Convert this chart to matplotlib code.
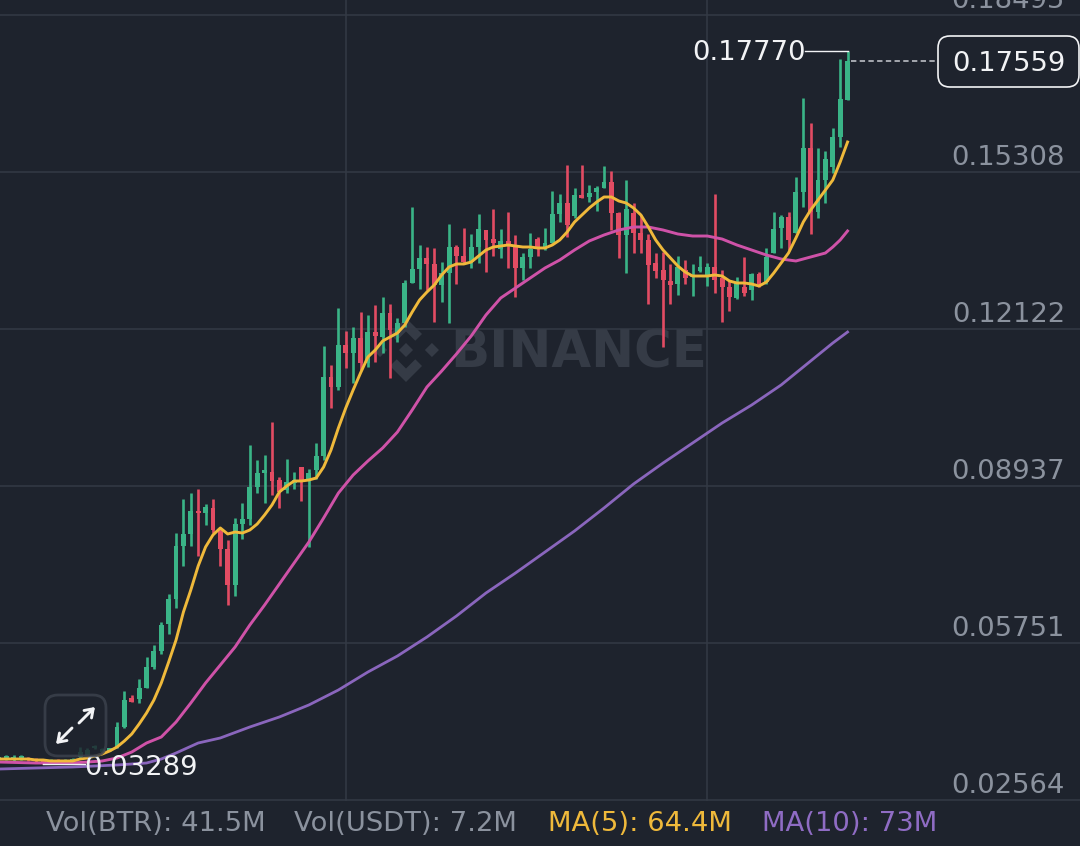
import matplotlib
matplotlib.use("Agg")
import matplotlib.pyplot as plt
from matplotlib.patches import FancyBboxPatch, Polygon
from matplotlib.transforms import blended_transform_factory

plt.rcParams['font.family'] = ['DejaVu Sans']

# candles, oldest first
opens = [0.03390, 0.03390, 0.03370, 0.03390, 0.03411, 0.03390, 0.03370, 0.03330, 0.03370, 0.03350, 0.03370, 0.03431, 0.03471, 0.03614, 0.03532, 0.03553,
         0.03634, 0.04040, 0.04629, 0.04608, 0.04832, 0.05258, 0.05583, 0.06131, 0.06638, 0.07714,
         0.07958, 0.08425, 0.08384, 0.08486, 0.08039, 0.07653, 0.06922, 0.08161, 0.08262, 0.08912,
         0.09196, 0.09217, 0.09054, 0.08851, 0.08993, 0.09318, 0.09054, 0.09257, 0.09541, 0.11145,
         0.10942, 0.11795, 0.11632, 0.11937, 0.11429, 0.12058, 0.11957, 0.12444, 0.12038, 0.12241,
         0.13053, 0.13337, 0.13561, 0.13439, 0.13013, 0.13256, 0.13784, 0.13601, 0.13479, 0.13784,
         0.14129, 0.13946, 0.13743, 0.13906, 0.13825, 0.13358, 0.13581, 0.13946, 0.13743, 0.13865,
         0.14454, 0.14677, 0.14413, 0.14840, 0.14799, 0.14900, 0.14982, 0.15103, 0.14474, 0.14028,
         0.14474, 0.14068, 0.13926, 0.13459, 0.13317, 0.13094, 0.13033, 0.13317, 0.13175, 0.13297,
         0.13195, 0.13378, 0.13155, 0.12972, 0.12749, 0.12972, 0.12911, 0.13236, 0.13073, 0.13662,
         0.14170, 0.14393, 0.14068, 0.14900, 0.15794, 0.14494, 0.15144, 0.15408, 0.16017, 0.16768]
closes = [0.03431, 0.03451, 0.03431, 0.03451, 0.03370, 0.03350, 0.03330, 0.03370, 0.03350, 0.03370, 0.03390, 0.03532, 0.03573, 0.03654, 0.03593, 0.03614,
          0.04040, 0.04588, 0.04547, 0.04832, 0.05258, 0.05583, 0.06110, 0.06638, 0.07714, 0.07958,
          0.08425, 0.08384, 0.08506, 0.08039, 0.07653, 0.06922, 0.08161, 0.08262, 0.08912, 0.09196,
          0.09257, 0.09034, 0.08810, 0.09013, 0.09054, 0.09034, 0.09196, 0.09541, 0.11145, 0.10942,
          0.11795, 0.11632, 0.11937, 0.11429, 0.12058, 0.11977, 0.12444, 0.12099, 0.12241, 0.13053,
          0.13337, 0.13561, 0.13439, 0.13013, 0.13256, 0.13784, 0.13601, 0.13479, 0.13784, 0.14149,
          0.13926, 0.13865, 0.13906, 0.13825, 0.13358, 0.13581, 0.13743, 0.13784, 0.13865, 0.14454,
          0.14677, 0.14231, 0.14840, 0.14779, 0.14880, 0.14982, 0.15103, 0.14474, 0.14028, 0.14555,
          0.14068, 0.13926, 0.13418, 0.13297, 0.13114, 0.13013, 0.13378, 0.13155, 0.13216, 0.13378,
          0.13378, 0.13114, 0.12972, 0.12769, 0.13073, 0.12850, 0.13236, 0.13033, 0.13581, 0.14149,
          0.14393, 0.13926, 0.14900, 0.15794, 0.14494, 0.15144, 0.15570, 0.16017, 0.16788, 0.17559]
highs = [0.03451, 0.03471, 0.03471, 0.03471, 0.03431, 0.03411, 0.03390, 0.03390, 0.03390, 0.03390, 0.03411, 0.03634, 0.03614, 0.03674, 0.03614, 0.03614,
         0.04141, 0.04771, 0.04689, 0.05014, 0.05461, 0.05704, 0.06171, 0.06740, 0.07978, 0.08668,
         0.08790, 0.08871, 0.08567, 0.08668, 0.08080, 0.07836, 0.08283, 0.08587, 0.09764, 0.09460,
         0.09562, 0.10231, 0.09115, 0.09480, 0.09217, 0.09318, 0.09277, 0.09805, 0.11774, 0.11389,
         0.12546, 0.12079, 0.12160, 0.12464, 0.12404, 0.12607, 0.12769, 0.12627, 0.12343, 0.13114,
         0.14596, 0.13825, 0.13784, 0.13764, 0.13479, 0.14251, 0.13825, 0.14170, 0.14048, 0.14454,
         0.14129, 0.14555, 0.14149, 0.14494, 0.14028, 0.13662, 0.14068, 0.13987, 0.14170, 0.14921,
         0.14860, 0.15449, 0.14982, 0.15449, 0.15043, 0.15022, 0.15428, 0.15327, 0.14494, 0.15144,
         0.14677, 0.14433, 0.14048, 0.13662, 0.13682, 0.13439, 0.13601, 0.13520, 0.13439, 0.13601,
         0.13459, 0.14860, 0.13317, 0.13114, 0.13175, 0.13581, 0.13256, 0.13276, 0.13764, 0.14494,
         0.14433, 0.14494, 0.15205, 0.16809, 0.16301, 0.15794, 0.15733, 0.16200, 0.17600, 0.17770]
lows = [0.03370, 0.03370, 0.03350, 0.03370, 0.03350, 0.03329, 0.03289, 0.03310, 0.03329, 0.03340, 0.03350, 0.03411, 0.03471, 0.03593, 0.03512, 0.03553,
        0.03614, 0.04020, 0.04547, 0.04527, 0.04832, 0.05217, 0.05522, 0.05928, 0.06456, 0.07308,
        0.07714, 0.07511, 0.08140, 0.07978, 0.07308, 0.06516, 0.06699, 0.07856, 0.08140, 0.08790,
        0.08587, 0.08749, 0.08486, 0.08790, 0.08871, 0.08628, 0.07694, 0.09074, 0.09460, 0.10516,
        0.10881, 0.11328, 0.11023, 0.11287, 0.11348, 0.11449, 0.11632, 0.11125, 0.11855, 0.12160,
        0.13053, 0.12931, 0.12911, 0.12261, 0.12667, 0.12241, 0.13033, 0.13459, 0.13358, 0.13459,
        0.13276, 0.13601, 0.13561, 0.13358, 0.12769, 0.13114, 0.13358, 0.13601, 0.13723, 0.13865,
        0.14291, 0.13987, 0.14373, 0.14779, 0.14697, 0.14515, 0.14982, 0.14129, 0.13561, 0.13256,
        0.13662, 0.13662, 0.12627, 0.13155, 0.11754, 0.12627, 0.12810, 0.13033, 0.12789, 0.13276,
        0.12992, 0.12850, 0.12261, 0.12485, 0.12728, 0.12789, 0.12708, 0.12972, 0.13033, 0.13662,
        0.13764, 0.13723, 0.14068, 0.14596, 0.14048, 0.14373, 0.14677, 0.15286, 0.15814, 0.16768]

ma5 = [0.03390, 0.03390, 0.03390, 0.03390, 0.03390, 0.03370, 0.03370, 0.03350, 0.03350, 0.03350, 0.03350, 0.03390, 0.03411, 0.03451, 0.03492, 0.03553,
       0.03634, 0.03756, 0.03898, 0.04101, 0.04324, 0.04588, 0.04933, 0.05359, 0.05806, 0.06374,
       0.06821, 0.07308, 0.07694, 0.07938, 0.08080, 0.07958, 0.07998, 0.07978, 0.08039, 0.08161,
       0.08344, 0.08547, 0.08810, 0.08932, 0.09034, 0.09034, 0.09054, 0.09095, 0.09318, 0.09663,
       0.10110, 0.10516, 0.10881, 0.11226, 0.11551, 0.11693, 0.11876, 0.11957, 0.12038, 0.12200,
       0.12464, 0.12708, 0.12870, 0.13013, 0.13216, 0.13378, 0.13439, 0.13439, 0.13479, 0.13601,
       0.13723, 0.13784, 0.13804, 0.13825, 0.13804, 0.13784, 0.13784, 0.13764, 0.13764, 0.13825,
       0.13926, 0.14088, 0.14291, 0.14433, 0.14576, 0.14697, 0.14799, 0.14799, 0.14718, 0.14677,
       0.14576, 0.14433, 0.14190, 0.13926, 0.13723, 0.13561, 0.13398, 0.13276, 0.13195, 0.13195,
       0.13195, 0.13216, 0.13195, 0.13094, 0.13053, 0.13053, 0.13033, 0.12992, 0.13073, 0.13256,
       0.13459, 0.13662, 0.13967, 0.14291, 0.14535, 0.14738, 0.14941, 0.15144, 0.15509, 0.15915]

ma10_idx = [0, 5, 10, 14, 16, 18, 20, 22, 24, 26, 28, 30, 32, 34, 36, 38, 40, 42, 44, 46, 48, 50, 52, 54, 56, 58, 60,
            62, 64, 66, 68, 70, 72, 74, 76, 78, 80, 82, 84, 86, 88, 90, 92, 94, 96, 98, 100, 102, 104, 106, 108, 110, 112, 113, 114, 115]
ma10 = [0.03329, 0.03309, 0.03309, 0.03350, 0.03411, 0.03532, 0.03715, 0.03837, 0.04141, 0.04527, 0.04933, 0.05298,
        0.05664, 0.06110, 0.06516, 0.06943, 0.07369, 0.07795, 0.08283, 0.08789, 0.09155, 0.09440, 0.09704, 0.10028,
        0.10475, 0.10942, 0.11267, 0.11612, 0.11977, 0.12404, 0.12749, 0.12952, 0.13155, 0.13358, 0.13520, 0.13723,
        0.13906, 0.14028, 0.14129, 0.14190, 0.14190, 0.14129, 0.14048, 0.14007, 0.14007, 0.13946, 0.13825, 0.13723,
        0.13621, 0.13540, 0.13500, 0.13581, 0.13662, 0.13784, 0.13926, 0.14109]

ma20_idx = [0, 10, 16, 20, 22, 24, 27, 30, 34, 38, 42, 46, 50, 54, 58, 62, 66, 70, 74, 78, 82, 86, 90, 94, 98, 102, 106, 110, 113, 115]
ma20 = [0.03187, 0.03228, 0.03269, 0.03309, 0.03390, 0.03512, 0.03715, 0.03817, 0.04040, 0.04243, 0.04487, 0.04791,
        0.05156, 0.05481, 0.05867, 0.06293, 0.06760, 0.07166, 0.07592, 0.08019, 0.08486, 0.08973, 0.09399, 0.09805,
        0.10211, 0.10576, 0.10983, 0.11470, 0.11835, 0.12058]

price_ticks = [0.18495, 0.15308, 0.12122, 0.08937, 0.05751, 0.02564]
time_ticks = [47, 96]
high_price = 0.17770
low_price = 0.03289
last_price = 0.17559
footer = [("Vol(BTR): 41.5M", 46, "#8b929e"), ("Vol(USDT): 7.2M", 294, "#8b929e"),
          ("MA(5): 64.4M", 548, "#efb93b"), ("MA(10): 73M", 762, "#8f6cc4")]

BG = "#1e232d"
GRID = "#343a45"
GREEN = "#3ab487"
RED = "#e24c63"
WHITE = "#f2f3f5"
GREY = "#8b929e"
FS = 19.7

fig = plt.figure(figsize=(10.8, 8.46), dpi=100, facecolor=BG)

# pixel axes under and over the chart, for the watermark, button and labels
under = fig.add_axes([0, 0, 1, 1], zorder=0, facecolor=BG)
ax = fig.add_axes([0, 0, 1, 1], zorder=1, facecolor="none")
over = fig.add_axes([0, 0, 1, 1], zorder=2, facecolor="none")
for a in (under, over):
    a.set_xlim(0, 1080)
    a.set_ylim(846, 0)
    a.axis("off")

ax.set_xlim(0.144, 146.5)
ax.set_ylim(0.18798 - 846 * 0.000203, 0.18798)
ax.axis("off")

# watermark
wm = "#353b46"
cx, cy, r = 406, 350, 32
logo = [[(0, -1), (0.5, -0.5), (0.29, -0.29), (0, -0.58), (-0.29, -0.29), (-0.5, -0.5)],
        [(0, 1), (0.5, 0.5), (0.29, 0.29), (0, 0.58), (-0.29, 0.29), (-0.5, 0.5)],
        [(0, -0.22), (0.22, 0), (0, 0.22), (-0.22, 0)],
        [(-0.81, -0.22), (-0.59, 0), (-0.81, 0.22), (-1.03, 0)],
        [(0.81, -0.22), (1.03, 0), (0.81, 0.22), (0.59, 0)]]
for pts in logo:
    under.add_patch(Polygon([(cx + r * p[0], cy + r * p[1]) for p in pts], closed=True, fc=wm, ec="none"))
under.text(450, 367, "BINANCE", color=wm, fontsize=37, fontweight="bold", va="baseline", ha="left")

for p in price_ticks:
    ax.axhline(p, color=GRID, lw=1.1, zorder=1)
for t in time_ticks:
    ax.plot([t, t], [price_ticks[-1], 0.18798], color=GRID, lw=1.1, zorder=1)

for i in range(len(opens)):
    c = GREEN if closes[i] >= opens[i] else RED
    ax.plot([i, i], [lows[i], highs[i]], color=c, lw=1.9, solid_capstyle="butt", zorder=2)
    ax.bar(i, abs(closes[i] - opens[i]), bottom=min(opens[i], closes[i]), width=0.66, color=c, zorder=2)

ax.plot(ma20_idx, ma20, color="#8a66bd", lw=2, zorder=3, solid_joinstyle="round")
ax.plot(ma10_idx, ma10, color="#cf52a8", lw=2.1, zorder=4, solid_joinstyle="round")
ax.plot(range(len(ma5)), ma5, color="#efb93b", lw=2.1, zorder=5, solid_joinstyle="round")

# price labels on the right, sitting just above their grid line
for p in price_ticks:
    ax.annotate(f"{p:.5f}", (1065 / 1080, p), xycoords=("axes fraction", "data"), xytext=(0, 5),
                textcoords="offset points", ha="right", va="baseline", color=GREY, fontsize=FS, zorder=6)

# high, low and last price markers
hi_i = highs.index(high_price)
lo_i = lows.index(low_price)
ax.plot([hi_i - 5.7, hi_i], [high_price, high_price], color=WHITE, lw=1, zorder=6)
ax.annotate(f"{high_price:.5f}", (hi_i - 5.7, high_price), xytext=(0, -7), textcoords="offset points",
            color=WHITE, fontsize=FS, ha="right", va="baseline", zorder=7)
ax.plot([lo_i, lo_i + 5.6], [low_price, low_price], color=WHITE, lw=1, zorder=6)
ax.annotate(f"{low_price:.5f}", (lo_i + 5.6, low_price), xytext=(0, -8), textcoords="offset points",
            color=WHITE, fontsize=FS, ha="left", va="baseline", zorder=7)
ax.plot([len(opens) - 0.6, 127.0], [last_price, last_price], color="#c9ccd2", lw=1.1, ls=(0, (3.5, 2.2)), zorder=6)

over.add_patch(FancyBboxPatch((938, 36), 141, 51, boxstyle="round,pad=0,rounding_size=12", fc=BG, ec=WHITE, lw=1.2))
px_price = blended_transform_factory(over.transData, ax.transData)
over.annotate(f"{last_price:.5f}", (1009, last_price), xycoords=px_price, xytext=(0, -7.2), textcoords="offset points",
              color=WHITE, fontsize=FS, ha="center", va="baseline", annotation_clip=False)

# expand button
over.add_patch(FancyBboxPatch((45, 695), 61, 61, boxstyle="round,pad=0,rounding_size=13", fc=BG, ec="#3c424d", lw=2, alpha=0.82))
over.annotate("", xy=(95, 707), xytext=(79, 723), arrowprops=dict(arrowstyle="->,head_width=0.38,head_length=0.55", color=WHITE, lw=2.1, shrinkA=0, shrinkB=0))
over.annotate("", xy=(56, 744), xytext=(72, 728), arrowprops=dict(arrowstyle="->,head_width=0.38,head_length=0.55", color=WHITE, lw=2.1, shrinkA=0, shrinkB=0))

for text, x, col in footer:
    over.text(x, 831, text, color=col, fontsize=FS, ha="left", va="baseline")

fig.savefig("out.png", dpi=100, facecolor=BG)
